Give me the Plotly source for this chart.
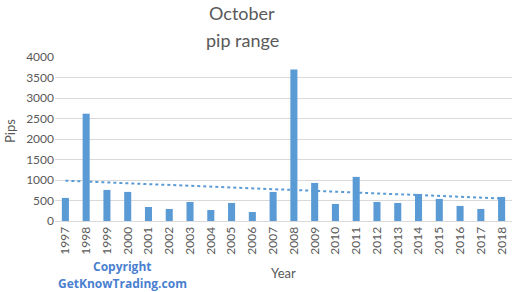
import numpy as np
import plotly.graph_objects as go

years = [str(y) for y in range(1997, 2019)]
pips = [563, 2617, 758, 709, 342, 294, 465, 269, 440, 220, 709,
        3693, 929, 416, 1076, 465, 440, 660, 538, 367, 294, 587]
y_ticks = [0, 500, 1000, 1500, 2000, 2500, 3000, 3500, 4000]

idx = np.arange(len(pips))
slope, intercept = np.polyfit(idx, pips, 1)
trend = slope * idx + intercept

FONT = "Lato"
GREY = "#595959"
W, H = 515, 292
L, R, T, B = 55, 3, 57, 71

fig = go.Figure()
fig.add_trace(go.Bar(x=years, y=pips, marker_color="#5B9BD5", marker_line_width=0))
fig.add_trace(go.Scatter(x=years, y=trend, mode="lines",
                         line=dict(color="#5B9BD5", width=2, dash="dot")))

fig.update_layout(
    width=W, height=H,
    margin=dict(l=L, r=R, t=T, b=B),
    paper_bgcolor="white", plot_bgcolor="white",
    showlegend=False,
    bargap=0.66,
    font=dict(family=FONT, color=GREY, size=12),
    xaxis=dict(type="category", tickangle=-90, showgrid=False,
               showline=True, linecolor="#D9D9D9", linewidth=1,
               ticks="", tickfont=dict(size=12, color=GREY)),
    yaxis=dict(range=[0, 4000], tickvals=y_ticks, showgrid=True,
               gridcolor="#D9D9D9", gridwidth=1, zeroline=False,
               ticks="", tickfont=dict(size=12, color=GREY)),
)

def px_x(x):
    return (x - L) / (W - L - R)

def px_y(y):
    return (H - B - y) / (H - T - B)

texts = [
    ("October", 242, 13, 18, FONT, GREY, 0),
    ("pip range", 242, 40, 18, FONT, GREY, 0),
    ("Year", 283, 273, 13, FONT, GREY, 0),
    ("Pips", 10, 131, 13, FONT, GREY, -90),
    ("<b>Copyright</b>", 122, 266, 12, "Open Sans", "#4A7FD0", 0),
    ("<b>GetKnowTrading.com</b>", 122, 283, 12, "Open Sans", "#4A7FD0", 0),
]
for t, x, y, s, f, c, a in texts:
    fig.add_annotation(text=t, xref="paper", yref="paper", x=px_x(x), y=px_y(y),
                       showarrow=False, textangle=a,
                       font=dict(family=f, size=s, color=c),
                       xanchor="center", yanchor="middle")

fig.write_html("out.html")
